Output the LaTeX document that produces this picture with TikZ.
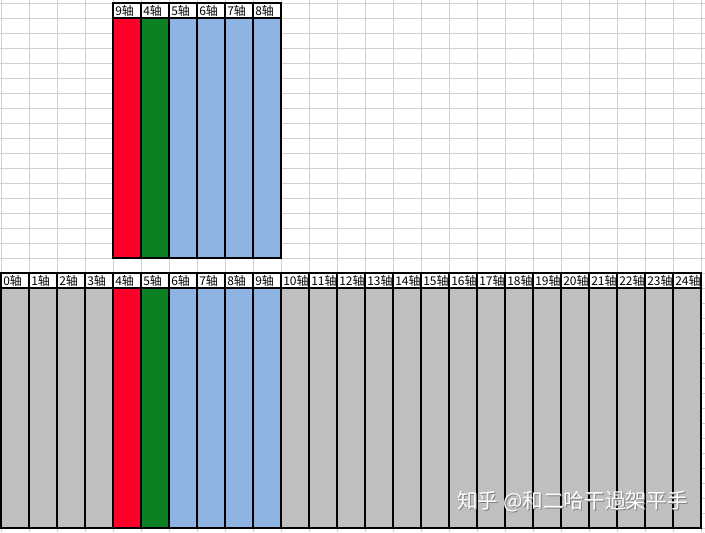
\documentclass[tikz,border=0pt]{standalone}
\usepackage{fontspec}
\newfontfamily\cjkfont{Noto Sans CJK SC}
\definecolor{axred}{RGB}{255,0,40}
\definecolor{axgreen}{RGB}{10,130,35}
\definecolor{axblue}{RGB}{141,180,226}
\definecolor{axgray}{RGB}{191,191,191}
\definecolor{gridgray}{RGB}{208,208,208}
\tikzset{gridline/.style={ % Sets the thin lines of the sheet
            draw=gridgray,
            line width=0.75pt},
        cellbox/.style={ % Sets the black border of each cell
            draw=black,
            line width=1.1pt},
        axlabel/.style={ % Header text, left aligned in the cell
            anchor=west,
            inner sep=0pt,
            font=\cjkfont\fontsize{9}{10}\selectfont},
        watermark/.style={
            inner sep=0pt,
            font=\cjkfont\fontsize{15.5}{18}\selectfont}
        }
\begin{document}
\begin{tikzpicture}[x=0.75pt,y=-0.75pt] % One unit is one pixel, y grows downward
    \useasboundingbox (0,0) rectangle (705,532);

    % sheet grid
    \foreach \k in {0,...,25}
        \draw[gridline] (1+28*\k,0) -- (1+28*\k,532);
    \foreach \r in {0,...,35}
        \draw[gridline] (0,3+15*\r) -- (705,3+15*\r);

    % upper block
    \foreach \n/\col [count=\k from 0] in {9/axred,4/axgreen,5/axblue,6/axblue,7/axblue,8/axblue} {
        \draw[cellbox, fill=white] (113+28*\k,3) rectangle ++(28,15);
        \draw[cellbox, fill=\col]  (113+28*\k,18) rectangle ++(28,240);
        \node[axlabel] (top\n) at (115+28*\k,11) {\n{}轴};
    }

    % lower block
    \foreach \n/\col in {0/axgray,1/axgray,2/axgray,3/axgray,4/axred,5/axgreen,6/axblue,7/axblue,8/axblue,9/axblue} {
        \draw[cellbox, fill=white] (1+28*\n,273) rectangle ++(28,15);
        \draw[cellbox, fill=\col]  (1+28*\n,288) rectangle ++(28,240);
        \node[axlabel] (low\n) at (3+28*\n,281) {\n{}轴};
    }
    \foreach \n in {10,...,24} {
        \draw[cellbox, fill=white]  (1+28*\n,273) rectangle ++(28,15);
        \draw[cellbox, fill=axgray] (1+28*\n,288) rectangle ++(28,240);
        \node[axlabel] (low\n) at (3+28*\n,281) {\n{}轴};
    }

    \node[watermark, text=black!50] (markshadow) at (573.5,503) {知乎 @和二哈干過架平手};
    \node[watermark, text=white]    (mark)       at (572.5,502) {知乎 @和二哈干過架平手};
\end{tikzpicture}
\end{document}
